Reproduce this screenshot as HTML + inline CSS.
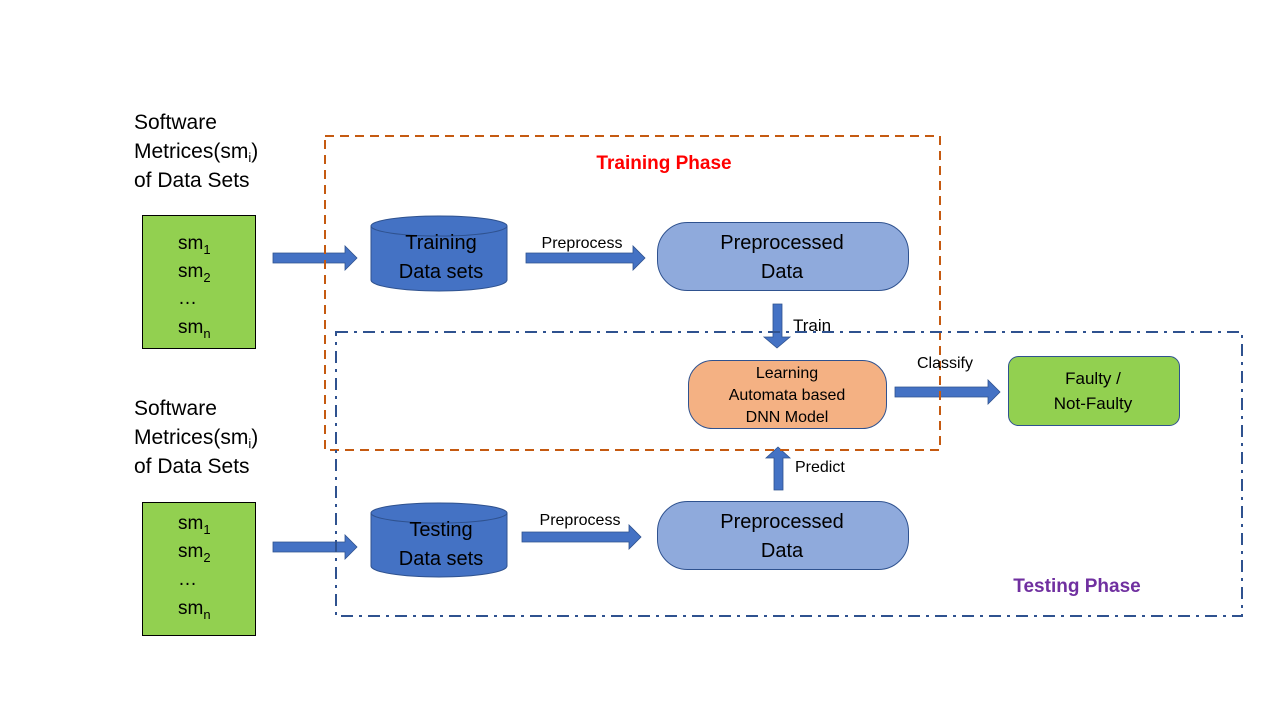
<!DOCTYPE html>
<html><head><meta charset="utf-8"><style>
html,body{margin:0;padding:0;background:#fff;}
svg{display:block;font-family:"Liberation Sans",sans-serif;}
</style></head><body>
<svg width="1280" height="720" viewBox="0 0 1280 720" xmlns="http://www.w3.org/2000/svg">
<rect width="1280" height="720" fill="#fff"/>
<g font-size="21" fill="#000">
<text x="134" y="129">Software</text>
<text x="134" y="158">Metrices(sm<tspan font-size="13" dy="4">i</tspan><tspan dy="-4">)</tspan></text>
<text x="134" y="187">of Data Sets</text>
<text x="134" y="415">Software</text>
<text x="134" y="444">Metrices(sm<tspan font-size="13" dy="4">i</tspan><tspan dy="-4">)</tspan></text>
<text x="134" y="473">of Data Sets</text>
</g>
<g font-size="19">
<rect x="142.5" y="215.5" width="113" height="133" fill="#92d050" stroke="#000" stroke-width="1"/>
<text x="178" y="249">sm<tspan font-size="13" dy="5">1</tspan></text>
<text x="178" y="277">sm<tspan font-size="13" dy="5">2</tspan></text>
<text x="178" y="304">…</text>
<text x="178" y="333">sm<tspan font-size="13" dy="5">n</tspan></text>
<rect x="142.5" y="502.5" width="113" height="133" fill="#92d050" stroke="#000" stroke-width="1"/>
<text x="178" y="529">sm<tspan font-size="13" dy="5">1</tspan></text>
<text x="178" y="557">sm<tspan font-size="13" dy="5">2</tspan></text>
<text x="178" y="585">…</text>
<text x="178" y="614">sm<tspan font-size="13" dy="5">n</tspan></text>
</g>
<g fill="#4472c4" stroke="#2f528f" stroke-width="0.8">
<polygon points="273,253 345,253 345,246 357,258 345,270 345,263 273,263"/>
<polygon points="526,253 633,253 633,246 645,258 633,270 633,263 526,263"/>
<polygon points="273,542 345,542 345,535 357,547 345,559 345,552 273,552"/>
<polygon points="522,532 629,532 629,525 641,537 629,549 629,542 522,542"/>
<polygon points="895,387 988,387 988,380 1000,392 988,404 988,397 895,397"/>
<polygon points="773,304 782,304 782,337 790,337 777,348 764,337 773,337"/>
<polygon points="774,490 783,490 783,458 790,458 778,447 766,458 774,458"/>
</g>
<g stroke="#2f528f" stroke-width="1" fill="#4472c4">
<path d="M371,226 L371,280 A68,11 0 0 0 507,280 L507,226"/>
<ellipse cx="439" cy="226" rx="68" ry="10"/>
<path d="M371,513 L371,566 A68,11 0 0 0 507,566 L507,513"/>
<ellipse cx="439" cy="513" rx="68" ry="10"/>
</g>
<rect x="657.5" y="222.5" width="251" height="68" rx="30" fill="#8faadc" stroke="#2f528f"/>
<rect x="657.5" y="501.5" width="251" height="68" rx="30" fill="#8faadc" stroke="#2f528f"/>
<rect x="688.5" y="360.5" width="198" height="68" rx="24" fill="#f4b183" stroke="#2f528f"/>
<rect x="1008.5" y="356.5" width="171" height="69" rx="10" fill="#92d050" stroke="#2f528f"/>
<rect x="325" y="136" width="615" height="314" fill="none" stroke="#c55a11" stroke-width="2" stroke-dasharray="9,6"/>
<rect x="336" y="332" width="906" height="284" fill="none" stroke="#2f528f" stroke-width="2" stroke-dasharray="12,6,3,6"/>
<g fill="#000" text-anchor="middle">
<text x="441" y="249" font-size="20">Training</text>
<text x="441" y="278" font-size="20">Data sets</text>
<text x="441" y="536" font-size="20">Testing</text>
<text x="441" y="565" font-size="20">Data sets</text>
<text x="782" y="249" font-size="20">Preprocessed</text>
<text x="782" y="278" font-size="20">Data</text>
<text x="782" y="528" font-size="20">Preprocessed</text>
<text x="782" y="557" font-size="20">Data</text>
<text x="787" y="378" font-size="16">Learning</text>
<text x="787" y="400" font-size="16">Automata based</text>
<text x="787" y="422" font-size="16">DNN Model</text>
<text x="1093" y="384" font-size="17">Faulty /</text>
<text x="1093" y="409" font-size="17">Not-Faulty</text>
<text x="582" y="248" font-size="16">Preprocess</text>
<text x="580" y="525" font-size="16">Preprocess</text>
<text x="945" y="368" font-size="16">Classify</text>
<text x="664" y="169" font-size="19" font-weight="bold" fill="#ff0000">Training Phase</text>
<text x="1077" y="592" font-size="19" font-weight="bold" fill="#7030a0">Testing Phase</text>
</g>
<text x="793" y="331" font-size="17">Train</text>
<text x="795" y="472" font-size="16">Predict</text>
</svg>
</body></html>
